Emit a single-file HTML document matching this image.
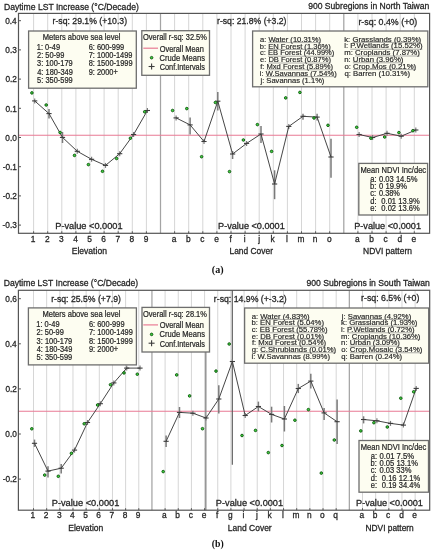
<!DOCTYPE html>
<html><head><meta charset="utf-8"><title>Daytime LST Increase</title>
<style>
html,body{margin:0;padding:0;background:#fff;}
body{width:433px;height:550px;overflow:hidden;}
svg{display:block;}
.tx{font-family:"Liberation Sans",Arial,sans-serif;fill:#262626;stroke:#262626;stroke-width:0.3px;}
.lc{stroke-width:0.16px;}
.lg{stroke-width:0.22px;}
.cap{font-family:"Liberation Serif","Times New Roman",serif;font-weight:bold;fill:#111;}
</style></head>
<body>
<svg width="433" height="550" viewBox="0 0 433 550">
<rect width="433" height="550" fill="#fff"/>
<line x1="33.6" y1="13.4" x2="33.6" y2="233.3" stroke="#d6d6d6" stroke-width="1"/>
<line x1="47.7" y1="13.4" x2="47.7" y2="233.3" stroke="#d6d6d6" stroke-width="1"/>
<line x1="61.8" y1="13.4" x2="61.8" y2="233.3" stroke="#d6d6d6" stroke-width="1"/>
<line x1="75.9" y1="13.4" x2="75.9" y2="233.3" stroke="#d6d6d6" stroke-width="1"/>
<line x1="90" y1="13.4" x2="90" y2="233.3" stroke="#d6d6d6" stroke-width="1"/>
<line x1="104.1" y1="13.4" x2="104.1" y2="233.3" stroke="#d6d6d6" stroke-width="1"/>
<line x1="118.2" y1="13.4" x2="118.2" y2="233.3" stroke="#d6d6d6" stroke-width="1"/>
<line x1="132.3" y1="13.4" x2="132.3" y2="233.3" stroke="#d6d6d6" stroke-width="1"/>
<line x1="146.4" y1="13.4" x2="146.4" y2="233.3" stroke="#d6d6d6" stroke-width="1"/>
<line x1="174.6" y1="13.4" x2="174.6" y2="233.3" stroke="#d6d6d6" stroke-width="1"/>
<line x1="188.7" y1="13.4" x2="188.7" y2="233.3" stroke="#d6d6d6" stroke-width="1"/>
<line x1="202.8" y1="13.4" x2="202.8" y2="233.3" stroke="#d6d6d6" stroke-width="1"/>
<line x1="216.9" y1="13.4" x2="216.9" y2="233.3" stroke="#d6d6d6" stroke-width="1"/>
<line x1="231" y1="13.4" x2="231" y2="233.3" stroke="#d6d6d6" stroke-width="1"/>
<line x1="245.1" y1="13.4" x2="245.1" y2="233.3" stroke="#d6d6d6" stroke-width="1"/>
<line x1="259.2" y1="13.4" x2="259.2" y2="233.3" stroke="#d6d6d6" stroke-width="1"/>
<line x1="273.3" y1="13.4" x2="273.3" y2="233.3" stroke="#d6d6d6" stroke-width="1"/>
<line x1="287.4" y1="13.4" x2="287.4" y2="233.3" stroke="#d6d6d6" stroke-width="1"/>
<line x1="301.5" y1="13.4" x2="301.5" y2="233.3" stroke="#d6d6d6" stroke-width="1"/>
<line x1="315.6" y1="13.4" x2="315.6" y2="233.3" stroke="#d6d6d6" stroke-width="1"/>
<line x1="329.7" y1="13.4" x2="329.7" y2="233.3" stroke="#d6d6d6" stroke-width="1"/>
<line x1="357.9" y1="13.4" x2="357.9" y2="233.3" stroke="#d6d6d6" stroke-width="1"/>
<line x1="372" y1="13.4" x2="372" y2="233.3" stroke="#d6d6d6" stroke-width="1"/>
<line x1="386.1" y1="13.4" x2="386.1" y2="233.3" stroke="#d6d6d6" stroke-width="1"/>
<line x1="400.2" y1="13.4" x2="400.2" y2="233.3" stroke="#d6d6d6" stroke-width="1"/>
<line x1="414.3" y1="13.4" x2="414.3" y2="233.3" stroke="#d6d6d6" stroke-width="1"/>
<line x1="160.5" y1="13.4" x2="160.5" y2="233.3" stroke="#a4a4a4" stroke-width="1.25"/>
<line x1="343.8" y1="13.4" x2="343.8" y2="233.3" stroke="#a4a4a4" stroke-width="1.25"/>
<line x1="18.5" y1="135.2" x2="429.6" y2="135.2" stroke="#e87a94" stroke-width="1.1"/>
<line x1="34.7" y1="98.4" x2="34.7" y2="103.4" stroke="#7a7a7a" stroke-width="1.2"/>
<line x1="49" y1="109" x2="49" y2="118.5" stroke="#7a7a7a" stroke-width="1.5"/>
<line x1="62.5" y1="132" x2="62.5" y2="143" stroke="#7a7a7a" stroke-width="1.5"/>
<line x1="77.3" y1="148.8" x2="77.3" y2="153.8" stroke="#7a7a7a" stroke-width="1.2"/>
<line x1="91.6" y1="156.8" x2="91.6" y2="161.8" stroke="#7a7a7a" stroke-width="1.2"/>
<line x1="105.5" y1="162.9" x2="105.5" y2="167.9" stroke="#7a7a7a" stroke-width="1.2"/>
<line x1="119.7" y1="151.2" x2="119.7" y2="156.2" stroke="#7a7a7a" stroke-width="1.2"/>
<line x1="133.6" y1="132" x2="133.6" y2="137" stroke="#7a7a7a" stroke-width="1.2"/>
<line x1="147.4" y1="108" x2="147.4" y2="113" stroke="#7a7a7a" stroke-width="1.2"/>
<polyline points="34.7,100.9 49,113.6 62.5,137.4 77.3,151.3 91.6,159.3 105.5,165.4 119.7,153.7 133.6,134.5 147.4,110.5" fill="none" stroke="#3c3c3c" stroke-width="0.95"/>
<line x1="32.1" y1="100.9" x2="37.3" y2="100.9" stroke="#3c3c3c" stroke-width="1.1"/>
<line x1="46.4" y1="113.6" x2="51.6" y2="113.6" stroke="#3c3c3c" stroke-width="1.1"/>
<line x1="59.9" y1="137.4" x2="65.1" y2="137.4" stroke="#3c3c3c" stroke-width="1.1"/>
<line x1="74.7" y1="151.3" x2="79.9" y2="151.3" stroke="#3c3c3c" stroke-width="1.1"/>
<line x1="89" y1="159.3" x2="94.2" y2="159.3" stroke="#3c3c3c" stroke-width="1.1"/>
<line x1="102.9" y1="165.4" x2="108.1" y2="165.4" stroke="#3c3c3c" stroke-width="1.1"/>
<line x1="117.1" y1="153.7" x2="122.3" y2="153.7" stroke="#3c3c3c" stroke-width="1.1"/>
<line x1="131" y1="134.5" x2="136.2" y2="134.5" stroke="#3c3c3c" stroke-width="1.1"/>
<line x1="144.8" y1="110.5" x2="150" y2="110.5" stroke="#3c3c3c" stroke-width="1.1"/>
<circle cx="31.9" cy="92.9" r="1.3" fill="#3fd63f" stroke="#0c500c" stroke-width="0.9"/>
<circle cx="46.2" cy="105" r="1.3" fill="#3fd63f" stroke="#0c500c" stroke-width="0.9"/>
<circle cx="60.1" cy="132.5" r="1.3" fill="#3fd63f" stroke="#0c500c" stroke-width="0.9"/>
<circle cx="74.5" cy="155.4" r="1.3" fill="#3fd63f" stroke="#0c500c" stroke-width="0.9"/>
<circle cx="88.4" cy="164.6" r="1.3" fill="#3fd63f" stroke="#0c500c" stroke-width="0.9"/>
<circle cx="102.5" cy="171.3" r="1.3" fill="#3fd63f" stroke="#0c500c" stroke-width="0.9"/>
<circle cx="116.6" cy="158.5" r="1.3" fill="#3fd63f" stroke="#0c500c" stroke-width="0.9"/>
<circle cx="130.4" cy="138.2" r="1.3" fill="#3fd63f" stroke="#0c500c" stroke-width="0.9"/>
<circle cx="144.7" cy="111.8" r="1.3" fill="#3fd63f" stroke="#0c500c" stroke-width="0.9"/>
<line x1="176.1" y1="115.4" x2="176.1" y2="120.4" stroke="#7a7a7a" stroke-width="1.2"/>
<line x1="190.1" y1="117.5" x2="190.1" y2="134.5" stroke="#7a7a7a" stroke-width="1.5"/>
<line x1="204" y1="139" x2="204" y2="144" stroke="#7a7a7a" stroke-width="1.2"/>
<line x1="217.8" y1="92" x2="217.8" y2="110.5" stroke="#7a7a7a" stroke-width="1.5"/>
<line x1="232.6" y1="151" x2="232.6" y2="159" stroke="#7a7a7a" stroke-width="1.5"/>
<line x1="246.6" y1="140.9" x2="246.6" y2="145.9" stroke="#7a7a7a" stroke-width="1.2"/>
<line x1="261" y1="126" x2="261" y2="143" stroke="#7a7a7a" stroke-width="1.5"/>
<line x1="274.6" y1="170.3" x2="274.6" y2="199.2" stroke="#7a7a7a" stroke-width="1.5"/>
<line x1="288.8" y1="123.9" x2="288.8" y2="128.9" stroke="#7a7a7a" stroke-width="1.2"/>
<line x1="303" y1="113.7" x2="303" y2="119.7" stroke="#7a7a7a" stroke-width="1.5"/>
<line x1="317.1" y1="113.7" x2="317.1" y2="120.6" stroke="#7a7a7a" stroke-width="1.5"/>
<line x1="331" y1="138.7" x2="331" y2="177.7" stroke="#7a7a7a" stroke-width="1.5"/>
<polyline points="176.1,117.9 190.1,124.9 204,141.5 217.8,101.2 232.6,154 246.6,143.4 261,134 274.6,184 288.8,126.4 303,116.3 317.1,117.1 331,157" fill="none" stroke="#3c3c3c" stroke-width="0.95"/>
<line x1="173.5" y1="117.9" x2="178.7" y2="117.9" stroke="#3c3c3c" stroke-width="1.1"/>
<line x1="187.5" y1="124.9" x2="192.7" y2="124.9" stroke="#3c3c3c" stroke-width="1.1"/>
<line x1="201.4" y1="141.5" x2="206.6" y2="141.5" stroke="#3c3c3c" stroke-width="1.1"/>
<line x1="215.2" y1="101.2" x2="220.4" y2="101.2" stroke="#3c3c3c" stroke-width="1.1"/>
<line x1="230" y1="154" x2="235.2" y2="154" stroke="#3c3c3c" stroke-width="1.1"/>
<line x1="244" y1="143.4" x2="249.2" y2="143.4" stroke="#3c3c3c" stroke-width="1.1"/>
<line x1="258.4" y1="134" x2="263.6" y2="134" stroke="#3c3c3c" stroke-width="1.1"/>
<line x1="272" y1="184" x2="277.2" y2="184" stroke="#3c3c3c" stroke-width="1.1"/>
<line x1="286.2" y1="126.4" x2="291.4" y2="126.4" stroke="#3c3c3c" stroke-width="1.1"/>
<line x1="300.4" y1="116.3" x2="305.6" y2="116.3" stroke="#3c3c3c" stroke-width="1.1"/>
<line x1="314.5" y1="117.1" x2="319.7" y2="117.1" stroke="#3c3c3c" stroke-width="1.1"/>
<line x1="328.4" y1="157" x2="333.6" y2="157" stroke="#3c3c3c" stroke-width="1.1"/>
<circle cx="172.6" cy="110.5" r="1.3" fill="#3fd63f" stroke="#0c500c" stroke-width="0.9"/>
<circle cx="186.8" cy="108.6" r="1.3" fill="#3fd63f" stroke="#0c500c" stroke-width="0.9"/>
<circle cx="201.6" cy="156.7" r="1.3" fill="#3fd63f" stroke="#0c500c" stroke-width="0.9"/>
<circle cx="215.4" cy="102.5" r="1.3" fill="#3fd63f" stroke="#0c500c" stroke-width="0.9"/>
<circle cx="229.5" cy="171.6" r="1.3" fill="#3fd63f" stroke="#0c500c" stroke-width="0.9"/>
<circle cx="243.4" cy="140" r="1.3" fill="#3fd63f" stroke="#0c500c" stroke-width="0.9"/>
<circle cx="257.4" cy="124.6" r="1.3" fill="#3fd63f" stroke="#0c500c" stroke-width="0.9"/>
<circle cx="271.6" cy="151.4" r="1.3" fill="#3fd63f" stroke="#0c500c" stroke-width="0.9"/>
<circle cx="285.7" cy="97.9" r="1.3" fill="#3fd63f" stroke="#0c500c" stroke-width="0.9"/>
<circle cx="299.9" cy="92.4" r="1.3" fill="#3fd63f" stroke="#0c500c" stroke-width="0.9"/>
<circle cx="314" cy="118" r="1.3" fill="#3fd63f" stroke="#0c500c" stroke-width="0.9"/>
<circle cx="328" cy="125.3" r="1.3" fill="#3fd63f" stroke="#0c500c" stroke-width="0.9"/>
<line x1="359.1" y1="132" x2="359.1" y2="137" stroke="#7a7a7a" stroke-width="1.2"/>
<line x1="372.6" y1="135" x2="372.6" y2="140" stroke="#7a7a7a" stroke-width="1.2"/>
<line x1="387" y1="130.8" x2="387" y2="135.8" stroke="#7a7a7a" stroke-width="1.2"/>
<line x1="401.2" y1="133.7" x2="401.2" y2="138.7" stroke="#7a7a7a" stroke-width="1.2"/>
<line x1="415.8" y1="127.5" x2="415.8" y2="132.5" stroke="#7a7a7a" stroke-width="1.2"/>
<polyline points="359.1,134.5 372.6,137.5 387,133.3 401.2,136.2 415.8,130" fill="none" stroke="#3c3c3c" stroke-width="0.95"/>
<line x1="356.5" y1="134.5" x2="361.7" y2="134.5" stroke="#3c3c3c" stroke-width="1.1"/>
<line x1="370" y1="137.5" x2="375.2" y2="137.5" stroke="#3c3c3c" stroke-width="1.1"/>
<line x1="384.4" y1="133.3" x2="389.6" y2="133.3" stroke="#3c3c3c" stroke-width="1.1"/>
<line x1="398.6" y1="136.2" x2="403.8" y2="136.2" stroke="#3c3c3c" stroke-width="1.1"/>
<line x1="413.2" y1="130" x2="418.4" y2="130" stroke="#3c3c3c" stroke-width="1.1"/>
<circle cx="356.7" cy="127.3" r="1.3" fill="#3fd63f" stroke="#0c500c" stroke-width="0.9"/>
<circle cx="370.9" cy="138.2" r="1.3" fill="#3fd63f" stroke="#0c500c" stroke-width="0.9"/>
<circle cx="384.7" cy="137" r="1.3" fill="#3fd63f" stroke="#0c500c" stroke-width="0.9"/>
<circle cx="398.9" cy="132.6" r="1.3" fill="#3fd63f" stroke="#0c500c" stroke-width="0.9"/>
<circle cx="412.9" cy="130.7" r="1.3" fill="#3fd63f" stroke="#0c500c" stroke-width="0.9"/>
<rect x="18.5" y="13.4" width="411.1" height="219.9" fill="none" stroke="#555555" stroke-width="1.2"/>
<line x1="18.5" y1="20.7" x2="21" y2="20.7" stroke="#555555" stroke-width="1"/>
<text transform="matrix(0.8800 0 0 1 5.23 24.00)" font-size="9.4" class="tx" xml:space="preserve">0.4</text>
<line x1="18.5" y1="49.9" x2="21" y2="49.9" stroke="#555555" stroke-width="1"/>
<text transform="matrix(0.8800 0 0 1 5.35 53.20)" font-size="9.4" class="tx" xml:space="preserve">0.3</text>
<line x1="18.5" y1="79.1" x2="21" y2="79.1" stroke="#555555" stroke-width="1"/>
<text transform="matrix(0.8800 0 0 1 5.39 82.40)" font-size="9.4" class="tx" xml:space="preserve">0.2</text>
<line x1="18.5" y1="108.3" x2="21" y2="108.3" stroke="#555555" stroke-width="1"/>
<text transform="matrix(0.8800 0 0 1 5.39 111.60)" font-size="9.4" class="tx" xml:space="preserve">0.1</text>
<line x1="18.5" y1="137.5" x2="21" y2="137.5" stroke="#555555" stroke-width="1"/>
<text transform="matrix(0.8800 0 0 1 5.31 140.80)" font-size="9.4" class="tx" xml:space="preserve">0.0</text>
<line x1="18.5" y1="166.7" x2="21" y2="166.7" stroke="#555555" stroke-width="1"/>
<text transform="matrix(0.8800 0 0 1 2.64 170.00)" font-size="9.4" class="tx" xml:space="preserve">-0.1</text>
<line x1="18.5" y1="195.9" x2="21" y2="195.9" stroke="#555555" stroke-width="1"/>
<text transform="matrix(0.8800 0 0 1 2.64 199.20)" font-size="9.4" class="tx" xml:space="preserve">-0.2</text>
<line x1="18.5" y1="225.1" x2="21" y2="225.1" stroke="#555555" stroke-width="1"/>
<text transform="matrix(0.8800 0 0 1 2.60 228.40)" font-size="9.4" class="tx" xml:space="preserve">-0.3</text>
<line x1="33.6" y1="233.3" x2="33.6" y2="231.3" stroke="#555555" stroke-width="1"/>
<text transform="matrix(0.9300 0 0 1 30.76 241.80)" font-size="9" class="tx" xml:space="preserve">1</text>
<line x1="47.7" y1="233.3" x2="47.7" y2="231.3" stroke="#555555" stroke-width="1"/>
<text transform="matrix(0.9300 0 0 1 44.97 241.80)" font-size="9" class="tx" xml:space="preserve">2</text>
<line x1="61.8" y1="233.3" x2="61.8" y2="231.3" stroke="#555555" stroke-width="1"/>
<text transform="matrix(0.9300 0 0 1 59.10 241.80)" font-size="9" class="tx" xml:space="preserve">3</text>
<line x1="75.9" y1="233.3" x2="75.9" y2="231.3" stroke="#555555" stroke-width="1"/>
<text transform="matrix(0.9300 0 0 1 73.20 241.80)" font-size="9" class="tx" xml:space="preserve">4</text>
<line x1="90" y1="233.3" x2="90" y2="231.3" stroke="#555555" stroke-width="1"/>
<text transform="matrix(0.9300 0 0 1 87.28 241.80)" font-size="9" class="tx" xml:space="preserve">5</text>
<line x1="104.1" y1="233.3" x2="104.1" y2="231.3" stroke="#555555" stroke-width="1"/>
<text transform="matrix(0.9300 0 0 1 101.35 241.80)" font-size="9" class="tx" xml:space="preserve">6</text>
<line x1="118.2" y1="233.3" x2="118.2" y2="231.3" stroke="#555555" stroke-width="1"/>
<text transform="matrix(0.9300 0 0 1 115.47 241.80)" font-size="9" class="tx" xml:space="preserve">7</text>
<line x1="132.3" y1="233.3" x2="132.3" y2="231.3" stroke="#555555" stroke-width="1"/>
<text transform="matrix(0.9300 0 0 1 129.57 241.80)" font-size="9" class="tx" xml:space="preserve">8</text>
<line x1="146.4" y1="233.3" x2="146.4" y2="231.3" stroke="#555555" stroke-width="1"/>
<text transform="matrix(0.9300 0 0 1 143.68 241.80)" font-size="9" class="tx" xml:space="preserve">9</text>
<line x1="174.6" y1="233.3" x2="174.6" y2="231.3" stroke="#555555" stroke-width="1"/>
<text transform="matrix(0.9300 0 0 1 171.69 241.80)" font-size="9" class="tx" xml:space="preserve">a</text>
<line x1="188.7" y1="233.3" x2="188.7" y2="231.3" stroke="#555555" stroke-width="1"/>
<text transform="matrix(0.9300 0 0 1 185.88 241.80)" font-size="9" class="tx" xml:space="preserve">b</text>
<line x1="202.8" y1="233.3" x2="202.8" y2="231.3" stroke="#555555" stroke-width="1"/>
<text transform="matrix(0.9300 0 0 1 200.23 241.80)" font-size="9" class="tx" xml:space="preserve">c</text>
<line x1="216.9" y1="233.3" x2="216.9" y2="231.3" stroke="#555555" stroke-width="1"/>
<text transform="matrix(0.9300 0 0 1 214.18 241.80)" font-size="9" class="tx" xml:space="preserve">e</text>
<line x1="231" y1="233.3" x2="231" y2="231.3" stroke="#555555" stroke-width="1"/>
<text transform="matrix(0.9300 0 0 1 229.38 241.80)" font-size="9" class="tx" xml:space="preserve">f</text>
<line x1="245.1" y1="233.3" x2="245.1" y2="231.3" stroke="#555555" stroke-width="1"/>
<text transform="matrix(0.9300 0 0 1 243.78 241.80)" font-size="9" class="tx" xml:space="preserve">i</text>
<line x1="259.2" y1="233.3" x2="259.2" y2="231.3" stroke="#555555" stroke-width="1"/>
<text transform="matrix(0.9300 0 0 1 258.26 241.80)" font-size="9" class="tx" xml:space="preserve">j</text>
<line x1="273.3" y1="233.3" x2="273.3" y2="231.3" stroke="#555555" stroke-width="1"/>
<text transform="matrix(0.9300 0 0 1 270.53 241.80)" font-size="9" class="tx" xml:space="preserve">k</text>
<line x1="287.4" y1="233.3" x2="287.4" y2="231.3" stroke="#555555" stroke-width="1"/>
<text transform="matrix(0.9300 0 0 1 286.07 241.80)" font-size="9" class="tx" xml:space="preserve">l</text>
<line x1="301.5" y1="233.3" x2="301.5" y2="231.3" stroke="#555555" stroke-width="1"/>
<text transform="matrix(0.9300 0 0 1 297.62 241.80)" font-size="9" class="tx" xml:space="preserve">m</text>
<line x1="315.6" y1="233.3" x2="315.6" y2="231.3" stroke="#555555" stroke-width="1"/>
<text transform="matrix(0.9300 0 0 1 312.87 241.80)" font-size="9" class="tx" xml:space="preserve">n</text>
<line x1="329.7" y1="233.3" x2="329.7" y2="231.3" stroke="#555555" stroke-width="1"/>
<text transform="matrix(0.9300 0 0 1 326.98 241.80)" font-size="9" class="tx" xml:space="preserve">o</text>
<line x1="357.9" y1="233.3" x2="357.9" y2="231.3" stroke="#555555" stroke-width="1"/>
<text transform="matrix(0.9300 0 0 1 354.99 241.80)" font-size="9" class="tx" xml:space="preserve">a</text>
<line x1="372" y1="233.3" x2="372" y2="231.3" stroke="#555555" stroke-width="1"/>
<text transform="matrix(0.9300 0 0 1 369.18 241.80)" font-size="9" class="tx" xml:space="preserve">b</text>
<line x1="386.1" y1="233.3" x2="386.1" y2="231.3" stroke="#555555" stroke-width="1"/>
<text transform="matrix(0.9300 0 0 1 383.53 241.80)" font-size="9" class="tx" xml:space="preserve">c</text>
<line x1="400.2" y1="233.3" x2="400.2" y2="231.3" stroke="#555555" stroke-width="1"/>
<text transform="matrix(0.9300 0 0 1 397.57 241.80)" font-size="9" class="tx" xml:space="preserve">d</text>
<line x1="414.3" y1="233.3" x2="414.3" y2="231.3" stroke="#555555" stroke-width="1"/>
<text transform="matrix(0.9300 0 0 1 411.58 241.80)" font-size="9" class="tx" xml:space="preserve">e</text>
<line x1="33.5" y1="290.3" x2="33.5" y2="510.2" stroke="#d6d6d6" stroke-width="1"/>
<line x1="46.66" y1="290.3" x2="46.66" y2="510.2" stroke="#d6d6d6" stroke-width="1"/>
<line x1="59.82" y1="290.3" x2="59.82" y2="510.2" stroke="#d6d6d6" stroke-width="1"/>
<line x1="72.98" y1="290.3" x2="72.98" y2="510.2" stroke="#d6d6d6" stroke-width="1"/>
<line x1="86.14" y1="290.3" x2="86.14" y2="510.2" stroke="#d6d6d6" stroke-width="1"/>
<line x1="99.3" y1="290.3" x2="99.3" y2="510.2" stroke="#d6d6d6" stroke-width="1"/>
<line x1="112.46" y1="290.3" x2="112.46" y2="510.2" stroke="#d6d6d6" stroke-width="1"/>
<line x1="125.62" y1="290.3" x2="125.62" y2="510.2" stroke="#d6d6d6" stroke-width="1"/>
<line x1="138.78" y1="290.3" x2="138.78" y2="510.2" stroke="#d6d6d6" stroke-width="1"/>
<line x1="165.1" y1="290.3" x2="165.1" y2="510.2" stroke="#d6d6d6" stroke-width="1"/>
<line x1="178.26" y1="290.3" x2="178.26" y2="510.2" stroke="#d6d6d6" stroke-width="1"/>
<line x1="191.42" y1="290.3" x2="191.42" y2="510.2" stroke="#d6d6d6" stroke-width="1"/>
<line x1="204.58" y1="290.3" x2="204.58" y2="510.2" stroke="#d6d6d6" stroke-width="1"/>
<line x1="217.74" y1="290.3" x2="217.74" y2="510.2" stroke="#d6d6d6" stroke-width="1"/>
<line x1="230.9" y1="290.3" x2="230.9" y2="510.2" stroke="#d6d6d6" stroke-width="1"/>
<line x1="244.06" y1="290.3" x2="244.06" y2="510.2" stroke="#d6d6d6" stroke-width="1"/>
<line x1="257.22" y1="290.3" x2="257.22" y2="510.2" stroke="#d6d6d6" stroke-width="1"/>
<line x1="270.38" y1="290.3" x2="270.38" y2="510.2" stroke="#d6d6d6" stroke-width="1"/>
<line x1="283.54" y1="290.3" x2="283.54" y2="510.2" stroke="#d6d6d6" stroke-width="1"/>
<line x1="296.7" y1="290.3" x2="296.7" y2="510.2" stroke="#d6d6d6" stroke-width="1"/>
<line x1="309.86" y1="290.3" x2="309.86" y2="510.2" stroke="#d6d6d6" stroke-width="1"/>
<line x1="323.02" y1="290.3" x2="323.02" y2="510.2" stroke="#d6d6d6" stroke-width="1"/>
<line x1="336.18" y1="290.3" x2="336.18" y2="510.2" stroke="#d6d6d6" stroke-width="1"/>
<line x1="362.5" y1="290.3" x2="362.5" y2="510.2" stroke="#d6d6d6" stroke-width="1"/>
<line x1="375.66" y1="290.3" x2="375.66" y2="510.2" stroke="#d6d6d6" stroke-width="1"/>
<line x1="388.82" y1="290.3" x2="388.82" y2="510.2" stroke="#d6d6d6" stroke-width="1"/>
<line x1="401.98" y1="290.3" x2="401.98" y2="510.2" stroke="#d6d6d6" stroke-width="1"/>
<line x1="415.14" y1="290.3" x2="415.14" y2="510.2" stroke="#d6d6d6" stroke-width="1"/>
<line x1="151.94" y1="290.3" x2="151.94" y2="510.2" stroke="#a4a4a4" stroke-width="1.25"/>
<line x1="349.34" y1="290.3" x2="349.34" y2="510.2" stroke="#a4a4a4" stroke-width="1.25"/>
<line x1="18.4" y1="411.3" x2="429.7" y2="411.3" stroke="#e87a94" stroke-width="1.1"/>
<line x1="205.8" y1="330" x2="205.8" y2="510.2" stroke="#8c8c8c" stroke-width="1.4"/>
<line x1="232.3" y1="290.2" x2="232.3" y2="464.8" stroke="#555555" stroke-width="1.1"/>
<line x1="34.5" y1="439.6" x2="34.5" y2="446.9" stroke="#7a7a7a" stroke-width="1.5"/>
<line x1="48" y1="466.3" x2="48" y2="477.6" stroke="#7a7a7a" stroke-width="1.5"/>
<line x1="61.2" y1="463.9" x2="61.2" y2="473.5" stroke="#7a7a7a" stroke-width="1.5"/>
<line x1="74.5" y1="447.6" x2="74.5" y2="452.6" stroke="#7a7a7a" stroke-width="1.2"/>
<line x1="87.5" y1="420" x2="87.5" y2="425" stroke="#7a7a7a" stroke-width="1.2"/>
<line x1="100.3" y1="401.2" x2="100.3" y2="406.2" stroke="#7a7a7a" stroke-width="1.2"/>
<line x1="113.8" y1="380.4" x2="113.8" y2="385.4" stroke="#7a7a7a" stroke-width="1.2"/>
<line x1="126.7" y1="365.6" x2="126.7" y2="370.6" stroke="#7a7a7a" stroke-width="1.2"/>
<line x1="140" y1="365.6" x2="140" y2="370.6" stroke="#7a7a7a" stroke-width="1.2"/>
<polyline points="34.5,443.3 48,471.1 61.2,468.2 74.5,450.1 87.5,422.5 100.3,403.7 113.8,382.9 126.7,368.1 140,368.1" fill="none" stroke="#3c3c3c" stroke-width="0.95"/>
<line x1="31.9" y1="443.3" x2="37.1" y2="443.3" stroke="#3c3c3c" stroke-width="1.1"/>
<line x1="45.4" y1="471.1" x2="50.6" y2="471.1" stroke="#3c3c3c" stroke-width="1.1"/>
<line x1="58.6" y1="468.2" x2="63.8" y2="468.2" stroke="#3c3c3c" stroke-width="1.1"/>
<line x1="71.9" y1="450.1" x2="77.1" y2="450.1" stroke="#3c3c3c" stroke-width="1.1"/>
<line x1="84.9" y1="422.5" x2="90.1" y2="422.5" stroke="#3c3c3c" stroke-width="1.1"/>
<line x1="97.7" y1="403.7" x2="102.9" y2="403.7" stroke="#3c3c3c" stroke-width="1.1"/>
<line x1="111.2" y1="382.9" x2="116.4" y2="382.9" stroke="#3c3c3c" stroke-width="1.1"/>
<line x1="124.1" y1="368.1" x2="129.3" y2="368.1" stroke="#3c3c3c" stroke-width="1.1"/>
<line x1="137.4" y1="368.1" x2="142.6" y2="368.1" stroke="#3c3c3c" stroke-width="1.1"/>
<circle cx="31.8" cy="428.8" r="1.3" fill="#3fd63f" stroke="#0c500c" stroke-width="0.9"/>
<circle cx="44.7" cy="475.1" r="1.3" fill="#3fd63f" stroke="#0c500c" stroke-width="0.9"/>
<circle cx="58.3" cy="476.3" r="1.3" fill="#3fd63f" stroke="#0c500c" stroke-width="0.9"/>
<circle cx="71.4" cy="453.3" r="1.3" fill="#3fd63f" stroke="#0c500c" stroke-width="0.9"/>
<circle cx="84.2" cy="423.8" r="1.3" fill="#3fd63f" stroke="#0c500c" stroke-width="0.9"/>
<circle cx="97.6" cy="405" r="1.3" fill="#3fd63f" stroke="#0c500c" stroke-width="0.9"/>
<circle cx="110.5" cy="384.7" r="1.3" fill="#3fd63f" stroke="#0c500c" stroke-width="0.9"/>
<circle cx="124" cy="372.9" r="1.3" fill="#3fd63f" stroke="#0c500c" stroke-width="0.9"/>
<circle cx="137.3" cy="374.2" r="1.3" fill="#3fd63f" stroke="#0c500c" stroke-width="0.9"/>
<line x1="166.1" y1="435.6" x2="166.1" y2="447" stroke="#7a7a7a" stroke-width="1.5"/>
<line x1="179.5" y1="407" x2="179.5" y2="418" stroke="#7a7a7a" stroke-width="1.5"/>
<line x1="192.9" y1="410.7" x2="192.9" y2="415.7" stroke="#7a7a7a" stroke-width="1.2"/>
<line x1="206" y1="415.5" x2="206" y2="420.5" stroke="#7a7a7a" stroke-width="1.2"/>
<line x1="218.8" y1="385.2" x2="218.8" y2="413.6" stroke="#7a7a7a" stroke-width="1.5"/>
<line x1="232.4" y1="359" x2="232.4" y2="364" stroke="#7a7a7a" stroke-width="1.2"/>
<line x1="245.2" y1="413" x2="245.2" y2="418" stroke="#7a7a7a" stroke-width="1.2"/>
<line x1="258.4" y1="401.6" x2="258.4" y2="411.3" stroke="#7a7a7a" stroke-width="1.5"/>
<line x1="271.6" y1="406.7" x2="271.6" y2="422.5" stroke="#7a7a7a" stroke-width="1.5"/>
<line x1="284.4" y1="406" x2="284.4" y2="431.5" stroke="#7a7a7a" stroke-width="1.5"/>
<line x1="298.3" y1="383.9" x2="298.3" y2="393.1" stroke="#7a7a7a" stroke-width="1.5"/>
<line x1="310.8" y1="373.7" x2="310.8" y2="388.5" stroke="#7a7a7a" stroke-width="1.5"/>
<line x1="324.1" y1="407.9" x2="324.1" y2="419.9" stroke="#7a7a7a" stroke-width="1.5"/>
<line x1="337.1" y1="399.6" x2="337.1" y2="443.9" stroke="#7a7a7a" stroke-width="1.5"/>
<polyline points="166.1,441.3 179.5,412.4 192.9,413.2 206,418 218.8,399 232.4,361.5 245.2,415.5 258.4,406.5 271.6,414.4 284.4,419 298.3,388.5 310.8,381.1 324.1,412.9 337.1,421.7" fill="none" stroke="#3c3c3c" stroke-width="0.95"/>
<line x1="163.5" y1="441.3" x2="168.7" y2="441.3" stroke="#3c3c3c" stroke-width="1.1"/>
<line x1="176.9" y1="412.4" x2="182.1" y2="412.4" stroke="#3c3c3c" stroke-width="1.1"/>
<line x1="190.3" y1="413.2" x2="195.5" y2="413.2" stroke="#3c3c3c" stroke-width="1.1"/>
<line x1="203.4" y1="418" x2="208.6" y2="418" stroke="#3c3c3c" stroke-width="1.1"/>
<line x1="216.2" y1="399" x2="221.4" y2="399" stroke="#3c3c3c" stroke-width="1.1"/>
<line x1="229.8" y1="361.5" x2="235" y2="361.5" stroke="#3c3c3c" stroke-width="1.1"/>
<line x1="242.6" y1="415.5" x2="247.8" y2="415.5" stroke="#3c3c3c" stroke-width="1.1"/>
<line x1="255.8" y1="406.5" x2="261" y2="406.5" stroke="#3c3c3c" stroke-width="1.1"/>
<line x1="269" y1="414.4" x2="274.2" y2="414.4" stroke="#3c3c3c" stroke-width="1.1"/>
<line x1="281.8" y1="419" x2="287" y2="419" stroke="#3c3c3c" stroke-width="1.1"/>
<line x1="295.7" y1="388.5" x2="300.9" y2="388.5" stroke="#3c3c3c" stroke-width="1.1"/>
<line x1="308.2" y1="381.1" x2="313.4" y2="381.1" stroke="#3c3c3c" stroke-width="1.1"/>
<line x1="321.5" y1="412.9" x2="326.7" y2="412.9" stroke="#3c3c3c" stroke-width="1.1"/>
<line x1="334.5" y1="421.7" x2="339.7" y2="421.7" stroke="#3c3c3c" stroke-width="1.1"/>
<circle cx="163.2" cy="471.6" r="1.3" fill="#3fd63f" stroke="#0c500c" stroke-width="0.9"/>
<circle cx="176.7" cy="374.9" r="1.3" fill="#3fd63f" stroke="#0c500c" stroke-width="0.9"/>
<circle cx="189.6" cy="395.9" r="1.3" fill="#3fd63f" stroke="#0c500c" stroke-width="0.9"/>
<circle cx="202.5" cy="428.7" r="1.3" fill="#3fd63f" stroke="#0c500c" stroke-width="0.9"/>
<circle cx="216" cy="371.1" r="1.3" fill="#3fd63f" stroke="#0c500c" stroke-width="0.9"/>
<circle cx="229.2" cy="344" r="1.3" fill="#3fd63f" stroke="#0c500c" stroke-width="0.9"/>
<circle cx="242" cy="435.5" r="1.3" fill="#3fd63f" stroke="#0c500c" stroke-width="0.9"/>
<circle cx="255.5" cy="430.4" r="1.3" fill="#3fd63f" stroke="#0c500c" stroke-width="0.9"/>
<circle cx="268.3" cy="452.6" r="1.3" fill="#3fd63f" stroke="#0c500c" stroke-width="0.9"/>
<circle cx="282" cy="445.5" r="1.3" fill="#3fd63f" stroke="#0c500c" stroke-width="0.9"/>
<circle cx="294.9" cy="420.2" r="1.3" fill="#3fd63f" stroke="#0c500c" stroke-width="0.9"/>
<circle cx="308.4" cy="409.6" r="1.3" fill="#3fd63f" stroke="#0c500c" stroke-width="0.9"/>
<circle cx="321.3" cy="473.1" r="1.3" fill="#3fd63f" stroke="#0c500c" stroke-width="0.9"/>
<circle cx="334.3" cy="440" r="1.3" fill="#3fd63f" stroke="#0c500c" stroke-width="0.9"/>
<line x1="363.6" y1="416.3" x2="363.6" y2="423.4" stroke="#7a7a7a" stroke-width="1.5"/>
<line x1="376.9" y1="418.3" x2="376.9" y2="423.3" stroke="#7a7a7a" stroke-width="1.2"/>
<line x1="390.5" y1="420.9" x2="390.5" y2="425.9" stroke="#7a7a7a" stroke-width="1.2"/>
<line x1="403.4" y1="422.6" x2="403.4" y2="427.6" stroke="#7a7a7a" stroke-width="1.2"/>
<line x1="416.2" y1="385.9" x2="416.2" y2="390.9" stroke="#7a7a7a" stroke-width="1.2"/>
<polyline points="363.6,419.5 376.9,420.8 390.5,423.4 403.4,425.1 416.2,388.4" fill="none" stroke="#3c3c3c" stroke-width="0.95"/>
<line x1="361" y1="419.5" x2="366.2" y2="419.5" stroke="#3c3c3c" stroke-width="1.1"/>
<line x1="374.3" y1="420.8" x2="379.5" y2="420.8" stroke="#3c3c3c" stroke-width="1.1"/>
<line x1="387.9" y1="423.4" x2="393.1" y2="423.4" stroke="#3c3c3c" stroke-width="1.1"/>
<line x1="400.8" y1="425.1" x2="406" y2="425.1" stroke="#3c3c3c" stroke-width="1.1"/>
<line x1="413.6" y1="388.4" x2="418.8" y2="388.4" stroke="#3c3c3c" stroke-width="1.1"/>
<circle cx="360.8" cy="430.9" r="1.3" fill="#3fd63f" stroke="#0c500c" stroke-width="0.9"/>
<circle cx="373.9" cy="422.7" r="1.3" fill="#3fd63f" stroke="#0c500c" stroke-width="0.9"/>
<circle cx="387.3" cy="427" r="1.3" fill="#3fd63f" stroke="#0c500c" stroke-width="0.9"/>
<circle cx="400.8" cy="398.2" r="1.3" fill="#3fd63f" stroke="#0c500c" stroke-width="0.9"/>
<circle cx="413.7" cy="391.8" r="1.3" fill="#3fd63f" stroke="#0c500c" stroke-width="0.9"/>
<rect x="18.4" y="290.3" width="411.3" height="219.9" fill="none" stroke="#555555" stroke-width="1.2"/>
<line x1="18.4" y1="298.7" x2="20.9" y2="298.7" stroke="#555555" stroke-width="1"/>
<text transform="matrix(0.8800 0 0 1 5.35 302.00)" font-size="9.4" class="tx" xml:space="preserve">0.6</text>
<line x1="18.4" y1="343.8" x2="20.9" y2="343.8" stroke="#555555" stroke-width="1"/>
<text transform="matrix(0.8800 0 0 1 5.23 347.10)" font-size="9.4" class="tx" xml:space="preserve">0.4</text>
<line x1="18.4" y1="388.9" x2="20.9" y2="388.9" stroke="#555555" stroke-width="1"/>
<text transform="matrix(0.8800 0 0 1 5.39 392.20)" font-size="9.4" class="tx" xml:space="preserve">0.2</text>
<line x1="18.4" y1="434" x2="20.9" y2="434" stroke="#555555" stroke-width="1"/>
<text transform="matrix(0.8800 0 0 1 5.31 437.30)" font-size="9.4" class="tx" xml:space="preserve">0.0</text>
<line x1="18.4" y1="479.1" x2="20.9" y2="479.1" stroke="#555555" stroke-width="1"/>
<text transform="matrix(0.8800 0 0 1 2.64 482.40)" font-size="9.4" class="tx" xml:space="preserve">-0.2</text>
<line x1="33.5" y1="510.2" x2="33.5" y2="508.2" stroke="#555555" stroke-width="1"/>
<text transform="matrix(0.9300 0 0 1 30.46 518.40)" font-size="9" class="tx" xml:space="preserve">1</text>
<line x1="46.66" y1="510.2" x2="46.66" y2="508.2" stroke="#555555" stroke-width="1"/>
<text transform="matrix(0.9300 0 0 1 43.73 518.40)" font-size="9" class="tx" xml:space="preserve">2</text>
<line x1="59.82" y1="510.2" x2="59.82" y2="508.2" stroke="#555555" stroke-width="1"/>
<text transform="matrix(0.9300 0 0 1 56.92 518.40)" font-size="9" class="tx" xml:space="preserve">3</text>
<line x1="72.98" y1="510.2" x2="72.98" y2="508.2" stroke="#555555" stroke-width="1"/>
<text transform="matrix(0.9300 0 0 1 70.08 518.40)" font-size="9" class="tx" xml:space="preserve">4</text>
<line x1="86.14" y1="510.2" x2="86.14" y2="508.2" stroke="#555555" stroke-width="1"/>
<text transform="matrix(0.9300 0 0 1 83.22 518.40)" font-size="9" class="tx" xml:space="preserve">5</text>
<line x1="99.3" y1="510.2" x2="99.3" y2="508.2" stroke="#555555" stroke-width="1"/>
<text transform="matrix(0.9300 0 0 1 96.35 518.40)" font-size="9" class="tx" xml:space="preserve">6</text>
<line x1="112.46" y1="510.2" x2="112.46" y2="508.2" stroke="#555555" stroke-width="1"/>
<text transform="matrix(0.9300 0 0 1 109.53 518.40)" font-size="9" class="tx" xml:space="preserve">7</text>
<line x1="125.62" y1="510.2" x2="125.62" y2="508.2" stroke="#555555" stroke-width="1"/>
<text transform="matrix(0.9300 0 0 1 122.69 518.40)" font-size="9" class="tx" xml:space="preserve">8</text>
<line x1="138.78" y1="510.2" x2="138.78" y2="508.2" stroke="#555555" stroke-width="1"/>
<text transform="matrix(0.9300 0 0 1 135.86 518.40)" font-size="9" class="tx" xml:space="preserve">9</text>
<line x1="165.1" y1="510.2" x2="165.1" y2="508.2" stroke="#555555" stroke-width="1"/>
<text transform="matrix(0.9300 0 0 1 161.99 518.40)" font-size="9" class="tx" xml:space="preserve">a</text>
<line x1="178.26" y1="510.2" x2="178.26" y2="508.2" stroke="#555555" stroke-width="1"/>
<text transform="matrix(0.9300 0 0 1 175.24 518.40)" font-size="9" class="tx" xml:space="preserve">b</text>
<line x1="191.42" y1="510.2" x2="191.42" y2="508.2" stroke="#555555" stroke-width="1"/>
<text transform="matrix(0.9300 0 0 1 188.65 518.40)" font-size="9" class="tx" xml:space="preserve">c</text>
<line x1="204.58" y1="510.2" x2="204.58" y2="508.2" stroke="#555555" stroke-width="1"/>
<text transform="matrix(0.9300 0 0 1 201.66 518.40)" font-size="9" class="tx" xml:space="preserve">e</text>
<line x1="217.74" y1="510.2" x2="217.74" y2="508.2" stroke="#555555" stroke-width="1"/>
<text transform="matrix(0.9300 0 0 1 215.92 518.40)" font-size="9" class="tx" xml:space="preserve">f</text>
<line x1="230.9" y1="510.2" x2="230.9" y2="508.2" stroke="#555555" stroke-width="1"/>
<text transform="matrix(0.9300 0 0 1 228.07 518.40)" font-size="9" class="tx" xml:space="preserve">g</text>
<line x1="244.06" y1="510.2" x2="244.06" y2="508.2" stroke="#555555" stroke-width="1"/>
<text transform="matrix(0.9300 0 0 1 242.54 518.40)" font-size="9" class="tx" xml:space="preserve">i</text>
<line x1="257.22" y1="510.2" x2="257.22" y2="508.2" stroke="#555555" stroke-width="1"/>
<text transform="matrix(0.9300 0 0 1 256.08 518.40)" font-size="9" class="tx" xml:space="preserve">j</text>
<line x1="270.38" y1="510.2" x2="270.38" y2="508.2" stroke="#555555" stroke-width="1"/>
<text transform="matrix(0.9300 0 0 1 267.41 518.40)" font-size="9" class="tx" xml:space="preserve">k</text>
<line x1="283.54" y1="510.2" x2="283.54" y2="508.2" stroke="#555555" stroke-width="1"/>
<text transform="matrix(0.9300 0 0 1 282.01 518.40)" font-size="9" class="tx" xml:space="preserve">l</text>
<line x1="296.7" y1="510.2" x2="296.7" y2="508.2" stroke="#555555" stroke-width="1"/>
<text transform="matrix(0.9300 0 0 1 292.62 518.40)" font-size="9" class="tx" xml:space="preserve">m</text>
<line x1="309.86" y1="510.2" x2="309.86" y2="508.2" stroke="#555555" stroke-width="1"/>
<text transform="matrix(0.9300 0 0 1 306.93 518.40)" font-size="9" class="tx" xml:space="preserve">n</text>
<line x1="323.02" y1="510.2" x2="323.02" y2="508.2" stroke="#555555" stroke-width="1"/>
<text transform="matrix(0.9300 0 0 1 320.10 518.40)" font-size="9" class="tx" xml:space="preserve">o</text>
<line x1="336.18" y1="510.2" x2="336.18" y2="508.2" stroke="#555555" stroke-width="1"/>
<text transform="matrix(0.9300 0 0 1 333.35 518.40)" font-size="9" class="tx" xml:space="preserve">q</text>
<line x1="362.5" y1="510.2" x2="362.5" y2="508.2" stroke="#555555" stroke-width="1"/>
<text transform="matrix(0.9300 0 0 1 359.39 518.40)" font-size="9" class="tx" xml:space="preserve">a</text>
<line x1="375.66" y1="510.2" x2="375.66" y2="508.2" stroke="#555555" stroke-width="1"/>
<text transform="matrix(0.9300 0 0 1 372.64 518.40)" font-size="9" class="tx" xml:space="preserve">b</text>
<line x1="388.82" y1="510.2" x2="388.82" y2="508.2" stroke="#555555" stroke-width="1"/>
<text transform="matrix(0.9300 0 0 1 386.05 518.40)" font-size="9" class="tx" xml:space="preserve">c</text>
<line x1="401.98" y1="510.2" x2="401.98" y2="508.2" stroke="#555555" stroke-width="1"/>
<text transform="matrix(0.9300 0 0 1 399.15 518.40)" font-size="9" class="tx" xml:space="preserve">d</text>
<line x1="415.14" y1="510.2" x2="415.14" y2="508.2" stroke="#555555" stroke-width="1"/>
<text transform="matrix(0.9300 0 0 1 412.22 518.40)" font-size="9" class="tx" xml:space="preserve">e</text>
<text transform="matrix(0.9079 0 0 1 3.91 9.80)" font-size="9.5" class="tx" xml:space="preserve">Daytime LST Increase (°C/Decade)</text>
<text transform="matrix(0.9020 0 0 1 308.21 8.70)" font-size="9.5" class="tx" xml:space="preserve">900 Subregions in North Taiwan</text>
<text transform="matrix(0.9143 0 0 1 52.54 24.30)" font-size="9.5" class="tx" xml:space="preserve">r-sq: 29.1% (+10.3)</text>
<text transform="matrix(0.9108 0 0 1 217.04 24.20)" font-size="9.5" class="tx" xml:space="preserve">r-sq: 21.8% (+3.2)</text>
<text transform="matrix(0.9323 0 0 1 358.42 24.50)" font-size="9.5" class="tx" xml:space="preserve">r-sq: 0.4% (+0)</text>
<rect x="28.6" y="31" width="107.7" height="57.2" fill="#fdfdf1" stroke="#6e6e6e" stroke-width="1.3"/>
<text transform="matrix(0.8899 0 0 1 42.69 39.70)" font-size="8.5" class="tx lg" xml:space="preserve">Meters above sea level</text>
<text transform="matrix(0.8770 0 0 1 36.84 50.20)" font-size="8.5" class="tx lg" xml:space="preserve">1: 0-49</text>
<text transform="matrix(0.8770 0 0 1 37.03 58.30)" font-size="8.5" class="tx lg" xml:space="preserve">2: 50-99</text>
<text transform="matrix(0.8770 0 0 1 37.12 66.40)" font-size="8.5" class="tx lg" xml:space="preserve">3: 100-179</text>
<text transform="matrix(0.8770 0 0 1 37.23 74.50)" font-size="8.5" class="tx lg" xml:space="preserve">4: 180-349</text>
<text transform="matrix(0.8770 0 0 1 37.10 82.60)" font-size="8.5" class="tx lg" xml:space="preserve">5: 350-599</text>
<text transform="matrix(0.8770 0 0 1 88.63 50.20)" font-size="8.5" class="tx lg" xml:space="preserve">6: 600-999</text>
<text transform="matrix(0.8770 0 0 1 88.63 58.30)" font-size="8.5" class="tx lg" xml:space="preserve">7: 1000-1499</text>
<text transform="matrix(0.8770 0 0 1 88.68 66.40)" font-size="8.5" class="tx lg" xml:space="preserve">8: 1500-1999</text>
<text transform="matrix(0.8770 0 0 1 88.66 74.50)" font-size="8.5" class="tx lg" xml:space="preserve">9: 2000+</text>
<rect x="141.8" y="30.7" width="67.7" height="44.6" fill="#fdfdf1" stroke="#6e6e6e" stroke-width="1.3"/>
<text transform="matrix(0.8796 0 0 1 142.96 40.00)" font-size="8.5" class="tx lg" xml:space="preserve">Overall r-sq: 32.5%</text>
<line x1="143.3" y1="48.2" x2="158" y2="48.2" stroke="#e87a94" stroke-width="1.2"/>
<text transform="matrix(0.8747 0 0 1 159.67 51.70)" font-size="8.5" class="tx lg" xml:space="preserve">Overall Mean</text>
<circle cx="151.6" cy="57.7" r="1.3" fill="#3fd63f" stroke="#0c500c" stroke-width="0.9"/>
<text transform="matrix(0.8887 0 0 1 159.62 60.70)" font-size="8.5" class="tx lg" xml:space="preserve">Crude Means</text>
<line x1="148.6" y1="66.5" x2="154.6" y2="66.5" stroke="#3c3c3c" stroke-width="1.1"/><line x1="151.6" y1="63.5" x2="151.6" y2="69.5" stroke="#3c3c3c" stroke-width="1.1"/>
<text transform="matrix(0.8681 0 0 1 159.63 70.00)" font-size="8.5" class="tx lg" xml:space="preserve">Conf.Intervals</text>
<rect x="252.6" y="31" width="175.2" height="55.8" fill="#fdfdf1" stroke="#6e6e6e" stroke-width="1.3"/>
<text transform="matrix(1.0667 0 0 1 259.98 41.80)" font-size="7.1" class="tx lc" xml:space="preserve">a: Water (10.31%)</text>
<line x1="268.40" y1="42.60" x2="320.70" y2="42.60" stroke="#6a6a6a" stroke-width="0.55"/>
<text transform="matrix(1.0667 0 0 1 259.83 48.60)" font-size="7.1" class="tx lc" xml:space="preserve">b: EN Forest (1.36%)</text>
<line x1="268.25" y1="49.40" x2="330.51" y2="49.40" stroke="#6a6a6a" stroke-width="0.55"/>
<text transform="matrix(1.0667 0 0 1 259.98 55.40)" font-size="7.1" class="tx lc" xml:space="preserve">c: EB Forest (44.99%)</text>
<line x1="267.97" y1="56.20" x2="334.03" y2="56.20" stroke="#6a6a6a" stroke-width="0.55"/>
<text transform="matrix(1.0667 0 0 1 259.98 62.20)" font-size="7.1" class="tx lc" xml:space="preserve">e: DB Forest (0.87%)</text>
<line x1="268.40" y1="63.00" x2="330.66" y2="63.00" stroke="#6a6a6a" stroke-width="0.55"/>
<text transform="matrix(1.0667 0 0 1 260.21 69.00)" font-size="7.1" class="tx lc" xml:space="preserve">f: Mxd Forest (5.89%)</text>
<line x1="266.52" y1="69.80" x2="332.55" y2="69.80" stroke="#6a6a6a" stroke-width="0.55"/>
<text transform="matrix(1.0667 0 0 1 259.81 75.80)" font-size="7.1" class="tx lc" xml:space="preserve">i: W.Savannas (7.54%)</text>
<line x1="265.70" y1="76.60" x2="336.38" y2="76.60" stroke="#6a6a6a" stroke-width="0.55"/>
<text transform="matrix(1.0667 0 0 1 260.49 82.60)" font-size="7.1" class="tx lc" xml:space="preserve">j: Savannas (1.1%)</text>
<text transform="matrix(1.0988 0 0 1 344.19 41.60)" font-size="7.1" class="tx lc" xml:space="preserve">k: Grasslands (0.39%)</text>
<line x1="352.43" y1="42.40" x2="420.90" y2="42.40" stroke="#6a6a6a" stroke-width="0.55"/>
<text transform="matrix(1.0988 0 0 1 344.19 48.40)" font-size="7.1" class="tx lc" xml:space="preserve">l: P.Wetlands (15.52%)</text>
<line x1="350.26" y1="49.20" x2="422.36" y2="49.20" stroke="#6a6a6a" stroke-width="0.55"/>
<text transform="matrix(1.0988 0 0 1 344.19 55.20)" font-size="7.1" class="tx lc" xml:space="preserve">m: Croplands (7.87%)</text>
<line x1="355.03" y1="56.00" x2="419.59" y2="56.00" stroke="#6a6a6a" stroke-width="0.55"/>
<text transform="matrix(1.0988 0 0 1 344.19 62.00)" font-size="7.1" class="tx lc" xml:space="preserve">n: Urban (3.96%)</text>
<line x1="352.87" y1="62.80" x2="403.13" y2="62.80" stroke="#6a6a6a" stroke-width="0.55"/>
<text transform="matrix(1.0988 0 0 1 344.39 68.80)" font-size="7.1" class="tx lc" xml:space="preserve">o: Crop.Mos (0.21%)</text>
<line x1="353.06" y1="69.60" x2="415.89" y2="69.60" stroke="#6a6a6a" stroke-width="0.55"/>
<text transform="matrix(1.0988 0 0 1 344.39 75.60)" font-size="7.1" class="tx lc" xml:space="preserve">q: Barren (10.31%)</text>
<rect x="358.8" y="163.4" width="68.8" height="51.6" fill="#fdfdf1" stroke="#6e6e6e" stroke-width="1.3"/>
<text transform="matrix(0.8915 0 0 1 360.49 173.00)" font-size="8.5" class="tx lg" xml:space="preserve">Mean NDVI Inc/dec</text>
<text transform="matrix(0.8915 0 0 1 370.18 181.90)" font-size="8.5" class="tx lg" xml:space="preserve">a:</text>
<text transform="matrix(0.8940 0 0 1 379.02 181.90)" font-size="8.5" class="tx lg" xml:space="preserve">0.03 14.5%</text>
<text transform="matrix(0.8915 0 0 1 370.03 189.10)" font-size="8.5" class="tx lg" xml:space="preserve">b:</text>
<text transform="matrix(0.9026 0 0 1 379.01 189.10)" font-size="8.5" class="tx lg" xml:space="preserve">0 19.9%</text>
<text transform="matrix(0.8915 0 0 1 370.18 196.30)" font-size="8.5" class="tx lg" xml:space="preserve">c:</text>
<text transform="matrix(0.8680 0 0 1 379.02 196.30)" font-size="8.5" class="tx lg" xml:space="preserve">0.38%</text>
<text transform="matrix(0.8915 0 0 1 370.20 203.50)" font-size="8.5" class="tx lg" xml:space="preserve">d:</text>
<text transform="matrix(0.8940 0 0 1 381.32 203.50)" font-size="8.5" class="tx lg" xml:space="preserve">0.01 13.9%</text>
<text transform="matrix(0.8915 0 0 1 370.18 210.70)" font-size="8.5" class="tx lg" xml:space="preserve">e:</text>
<text transform="matrix(0.8940 0 0 1 381.32 210.70)" font-size="8.5" class="tx lg" xml:space="preserve">0.02 13.6%</text>
<text transform="matrix(0.9820 0 0 1 55.26 229.30)" font-size="9.4" class="tx" xml:space="preserve">P-value &lt;0.0001</text>
<text transform="matrix(0.9716 0 0 1 218.07 229.00)" font-size="9.4" class="tx" xml:space="preserve">P-value &lt;0.0001</text>
<text transform="matrix(0.9746 0 0 1 354.17 229.20)" font-size="9.4" class="tx" xml:space="preserve">P-value &lt;0.0001</text>
<text transform="matrix(0.9309 0 0 1 71.71 253.80)" font-size="9.2" class="tx" xml:space="preserve">Elevation</text>
<text transform="matrix(0.9145 0 0 1 229.53 253.80)" font-size="9.2" class="tx" xml:space="preserve">Land Cover</text>
<text transform="matrix(0.9216 0 0 1 363.02 253.80)" font-size="9.2" class="tx" xml:space="preserve">NDVI pattern</text>
<text transform="matrix(1.0737 0 0 1 211.77 273.40)" font-size="9.4" class="cap" xml:space="preserve">(a)</text>
<text transform="matrix(0.9045 0 0 1 3.71 286.40)" font-size="9.5" class="tx" xml:space="preserve">Daytime LST Increase (°C/Decade)</text>
<text transform="matrix(0.9092 0 0 1 306.41 286.10)" font-size="9.5" class="tx" xml:space="preserve">900 Subregions in South Taiwan</text>
<text transform="matrix(0.9148 0 0 1 51.14 301.50)" font-size="9.5" class="tx" xml:space="preserve">r-sq: 25.5% (+7.9)</text>
<text transform="matrix(0.9198 0 0 1 213.83 301.50)" font-size="9.5" class="tx" xml:space="preserve">r-sq: 14.9% (+-3.2)</text>
<text transform="matrix(0.9258 0 0 1 361.03 301.30)" font-size="9.5" class="tx" xml:space="preserve">r-sq: 6.5% (+0)</text>
<rect x="28.4" y="307.9" width="108" height="57" fill="#fdfdf1" stroke="#6e6e6e" stroke-width="1.3"/>
<text transform="matrix(0.8934 0 0 1 42.39 316.60)" font-size="8.5" class="tx lg" xml:space="preserve">Meters above sea level</text>
<text transform="matrix(0.8770 0 0 1 36.34 326.90)" font-size="8.5" class="tx lg" xml:space="preserve">1: 0-49</text>
<text transform="matrix(0.8770 0 0 1 36.53 335.20)" font-size="8.5" class="tx lg" xml:space="preserve">2: 50-99</text>
<text transform="matrix(0.8770 0 0 1 36.62 343.50)" font-size="8.5" class="tx lg" xml:space="preserve">3: 100-179</text>
<text transform="matrix(0.8770 0 0 1 36.73 351.80)" font-size="8.5" class="tx lg" xml:space="preserve">4: 180-349</text>
<text transform="matrix(0.8770 0 0 1 36.60 360.10)" font-size="8.5" class="tx lg" xml:space="preserve">5: 350-599</text>
<text transform="matrix(0.8770 0 0 1 88.93 326.90)" font-size="8.5" class="tx lg" xml:space="preserve">6: 600-999</text>
<text transform="matrix(0.8770 0 0 1 88.93 335.20)" font-size="8.5" class="tx lg" xml:space="preserve">7: 1000-1499</text>
<text transform="matrix(0.8770 0 0 1 88.98 343.50)" font-size="8.5" class="tx lg" xml:space="preserve">8: 1500-1999</text>
<text transform="matrix(0.8770 0 0 1 88.96 351.80)" font-size="8.5" class="tx lg" xml:space="preserve">9: 2000+</text>
<rect x="142" y="307.4" width="67.5" height="44.6" fill="#fdfdf1" stroke="#6e6e6e" stroke-width="1.3"/>
<text transform="matrix(0.8796 0 0 1 142.96 316.70)" font-size="8.5" class="tx lg" xml:space="preserve">Overall r-sq: 28.1%</text>
<line x1="143.3" y1="324.9" x2="158" y2="324.9" stroke="#e87a94" stroke-width="1.2"/>
<text transform="matrix(0.8747 0 0 1 159.67 328.40)" font-size="8.5" class="tx lg" xml:space="preserve">Overall Mean</text>
<circle cx="151.6" cy="334.4" r="1.3" fill="#3fd63f" stroke="#0c500c" stroke-width="0.9"/>
<text transform="matrix(0.8887 0 0 1 159.62 337.40)" font-size="8.5" class="tx lg" xml:space="preserve">Crude Means</text>
<line x1="148.6" y1="343.2" x2="154.6" y2="343.2" stroke="#3c3c3c" stroke-width="1.1"/><line x1="151.6" y1="340.2" x2="151.6" y2="346.2" stroke="#3c3c3c" stroke-width="1.1"/>
<text transform="matrix(0.8681 0 0 1 159.63 346.70)" font-size="8.5" class="tx lg" xml:space="preserve">Conf.Intervals</text>
<rect x="244.6" y="308" width="184.1" height="55.2" fill="#fdfdf1" stroke="#6e6e6e" stroke-width="1.3"/>
<text transform="matrix(1.0885 0 0 1 251.67 318.65)" font-size="7.1" class="tx lc" xml:space="preserve">a: Water (4.83%)</text>
<line x1="260.26" y1="319.45" x2="309.32" y2="319.45" stroke="#6a6a6a" stroke-width="0.55"/>
<text transform="matrix(1.0885 0 0 1 251.52 325.30)" font-size="7.1" class="tx lc" xml:space="preserve">b: EN Forest (5.04%)</text>
<line x1="260.11" y1="326.10" x2="323.64" y2="326.10" stroke="#6a6a6a" stroke-width="0.55"/>
<text transform="matrix(1.0885 0 0 1 251.67 331.95)" font-size="7.1" class="tx lc" xml:space="preserve">c: EB Forest (55.78%)</text>
<line x1="259.83" y1="332.75" x2="327.23" y2="332.75" stroke="#6a6a6a" stroke-width="0.55"/>
<text transform="matrix(1.0885 0 0 1 251.67 338.60)" font-size="7.1" class="tx lc" xml:space="preserve">e: DB Forest (0.01%)</text>
<line x1="260.26" y1="339.40" x2="323.80" y2="339.40" stroke="#6a6a6a" stroke-width="0.55"/>
<text transform="matrix(1.0885 0 0 1 251.90 345.25)" font-size="7.1" class="tx lc" xml:space="preserve">f: Mxd Forest (0.54%)</text>
<line x1="258.35" y1="346.05" x2="325.73" y2="346.05" stroke="#6a6a6a" stroke-width="0.55"/>
<text transform="matrix(1.0885 0 0 1 251.69 351.90)" font-size="7.1" class="tx lc" xml:space="preserve">g: C.Shrublands (0.01%)</text>
<line x1="260.28" y1="352.70" x2="335.85" y2="352.70" stroke="#6a6a6a" stroke-width="0.55"/>
<text transform="matrix(1.0885 0 0 1 251.50 358.55)" font-size="7.1" class="tx lc" xml:space="preserve">i: W.Savannas (8.99%)</text>
<text transform="matrix(1.0885 0 0 1 341.79 318.70)" font-size="7.1" class="tx lc" xml:space="preserve">j: Savannas (4.92%)</text>
<line x1="347.80" y1="319.50" x2="410.92" y2="319.50" stroke="#6a6a6a" stroke-width="0.55"/>
<text transform="matrix(1.0885 0 0 1 341.10 325.35)" font-size="7.1" class="tx lc" xml:space="preserve">k: Grasslands (1.93%)</text>
<line x1="349.26" y1="326.15" x2="417.09" y2="326.15" stroke="#6a6a6a" stroke-width="0.55"/>
<text transform="matrix(1.0885 0 0 1 341.10 332.00)" font-size="7.1" class="tx lc" xml:space="preserve">l: P.Wetlands (0.72%)</text>
<line x1="347.11" y1="332.80" x2="414.23" y2="332.80" stroke="#6a6a6a" stroke-width="0.55"/>
<text transform="matrix(1.0885 0 0 1 341.10 338.65)" font-size="7.1" class="tx lc" xml:space="preserve">m: Croplands (10.36%)</text>
<line x1="351.83" y1="339.45" x2="420.10" y2="339.45" stroke="#6a6a6a" stroke-width="0.55"/>
<text transform="matrix(1.0885 0 0 1 341.10 345.30)" font-size="7.1" class="tx lc" xml:space="preserve">n: Urban (3.09%)</text>
<line x1="349.69" y1="346.10" x2="399.48" y2="346.10" stroke="#6a6a6a" stroke-width="0.55"/>
<text transform="matrix(1.0885 0 0 1 341.29 351.95)" font-size="7.1" class="tx lc" xml:space="preserve">o: Crop.Mosaic (3.54%)</text>
<line x1="349.88" y1="352.75" x2="421.99" y2="352.75" stroke="#6a6a6a" stroke-width="0.55"/>
<text transform="matrix(1.0885 0 0 1 341.29 358.60)" font-size="7.1" class="tx lc" xml:space="preserve">q: Barren (0.24%)</text>
<rect x="359" y="440.5" width="69.5" height="51.7" fill="#fdfdf1" stroke="#6e6e6e" stroke-width="1.3"/>
<text transform="matrix(0.8915 0 0 1 360.69 449.50)" font-size="8.5" class="tx lg" xml:space="preserve">Mean NDVI Inc/dec</text>
<text transform="matrix(0.8915 0 0 1 370.68 458.90)" font-size="8.5" class="tx lg" xml:space="preserve">a:</text>
<text transform="matrix(0.9051 0 0 1 379.51 458.90)" font-size="8.5" class="tx lg" xml:space="preserve">0.01 7.5%</text>
<text transform="matrix(0.8915 0 0 1 370.53 466.10)" font-size="8.5" class="tx lg" xml:space="preserve">b:</text>
<text transform="matrix(0.8940 0 0 1 379.52 466.10)" font-size="8.5" class="tx lg" xml:space="preserve">0.05 13.1%</text>
<text transform="matrix(0.8915 0 0 1 370.68 473.30)" font-size="8.5" class="tx lg" xml:space="preserve">c:</text>
<text transform="matrix(0.8891 0 0 1 379.52 473.30)" font-size="8.5" class="tx lg" xml:space="preserve">0.03 33%</text>
<text transform="matrix(0.8915 0 0 1 370.70 480.50)" font-size="8.5" class="tx lg" xml:space="preserve">d:</text>
<text transform="matrix(0.8916 0 0 1 381.82 480.50)" font-size="8.5" class="tx lg" xml:space="preserve">0.16 12.1%</text>
<text transform="matrix(0.8915 0 0 1 370.68 487.70)" font-size="8.5" class="tx lg" xml:space="preserve">e:</text>
<text transform="matrix(0.8916 0 0 1 381.82 487.70)" font-size="8.5" class="tx lg" xml:space="preserve">0.19 34.4%</text>
<text transform="matrix(0.9850 0 0 1 51.76 506.10)" font-size="9.4" class="tx" xml:space="preserve">P-value &lt;0.0001</text>
<text transform="matrix(0.9790 0 0 1 215.86 505.70)" font-size="9.4" class="tx" xml:space="preserve">P-value &lt;0.0001</text>
<text transform="matrix(0.9746 0 0 1 356.07 506.40)" font-size="9.4" class="tx" xml:space="preserve">P-value &lt;0.0001</text>
<text transform="matrix(0.9282 0 0 1 68.22 531.40)" font-size="9.2" class="tx" xml:space="preserve">Elevation</text>
<text transform="matrix(0.9231 0 0 1 227.82 531.40)" font-size="9.2" class="tx" xml:space="preserve">Land Cover</text>
<text transform="matrix(0.9081 0 0 1 365.53 531.10)" font-size="9.2" class="tx" xml:space="preserve">NDVI pattern</text>
<text transform="matrix(1.0381 0 0 1 211.79 546.70)" font-size="9.4" class="cap" xml:space="preserve">(b)</text>
</svg>
</body></html>
